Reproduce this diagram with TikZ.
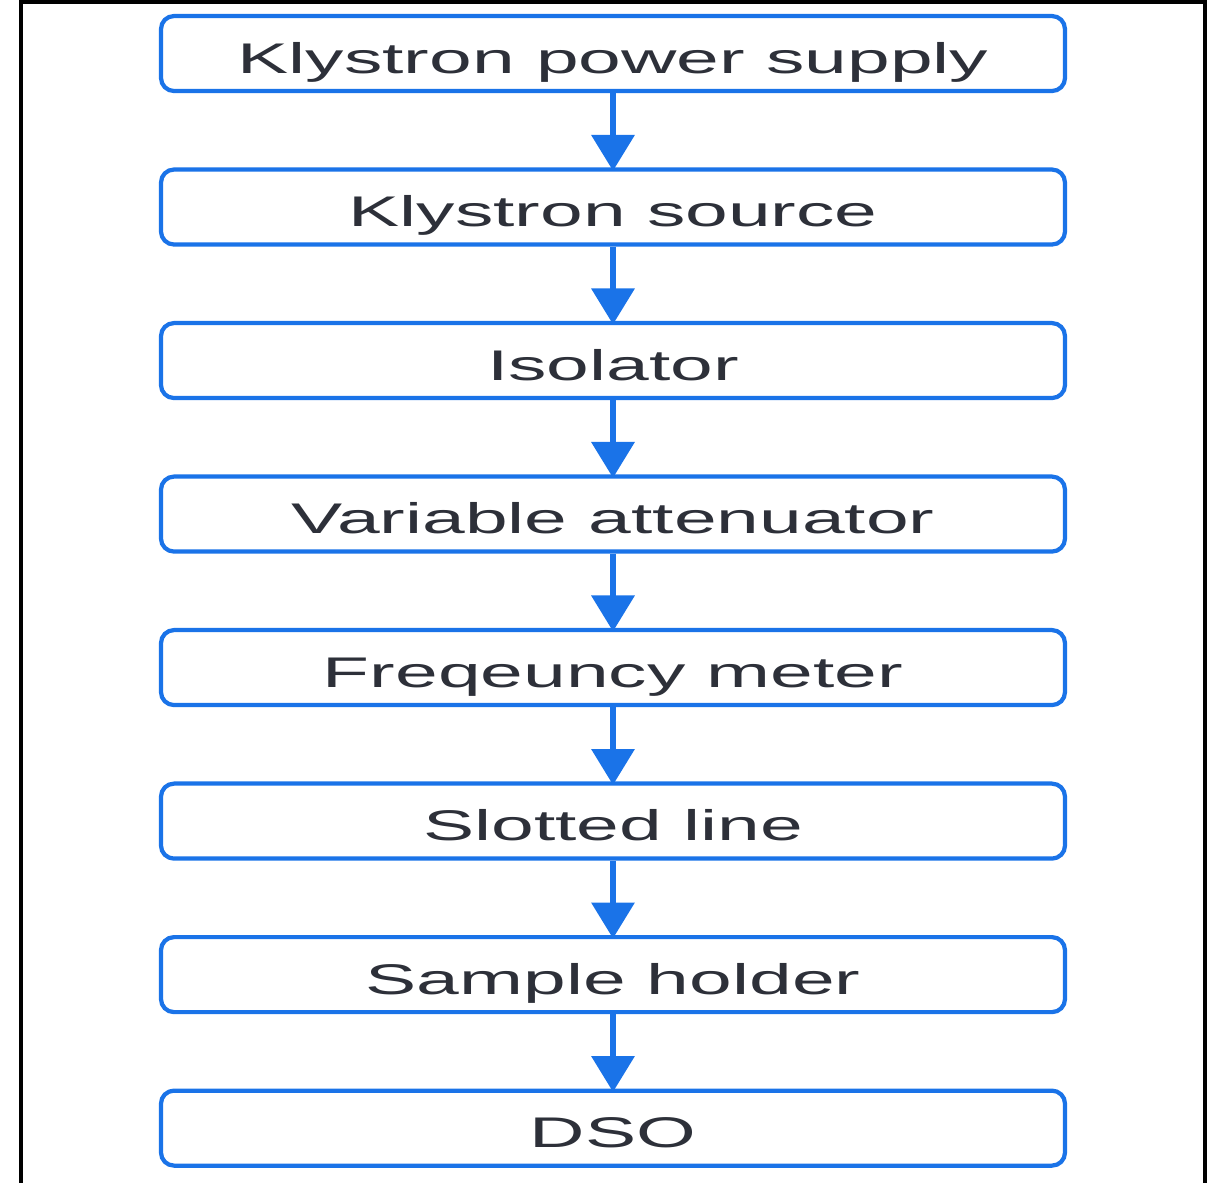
\documentclass[tikz,border=0pt]{standalone}
\usepackage{fontspec}
\usepackage{tikz}
\usetikzlibrary{arrows.meta, positioning}
\newfontfamily\boxfont[FakeStretch=1.79]{Liberation Sans}
\definecolor{flowblue}{HTML}{1A73E8}
\definecolor{boxtext}{HTML}{2D3039}
\tikzset{
  >={Triangle[width=0.42cm,length=0.36cm]},
  node distance=0.743cm,
  stage/.style={
    draw=flowblue,line width=1.2pt,rounded corners=0.13cm,fill=white,
    minimum width=9.04cm,minimum height=0.75cm,inner sep=0pt,
    text height=0.39cm,text depth=0pt,
    text=boxtext,font=\fontsize{12.2pt}{14pt}\boxfont
  },
  flow/.style={draw=flowblue,->,line width=1.9pt,shorten >=-1pt},
  frame/.style={draw=black,line width=0.9pt}
}

\begin{document}
\begin{tikzpicture}
  \useasboundingbox (0,0) rectangle (12.23,-11.82);
  % outer frame
  \draw[frame] (0.21,-12) -- (0.21,-0.02) -- (12.05,-0.02) -- (12.05,-12);

  % stages
  \node[stage] at (6.13,-0.535) (ps){Klystron power supply};
  \node[stage,below=of ps] (src){Klystron source};
  \node[stage,below=of src] (iso){Isolator};
  \node[stage,below=of iso] (att){Variable attenuator};
  \node[stage,below=of att] (freq){Freqeuncy meter};
  \node[stage,below=of freq] (slot){Slotted line};
  \node[stage,below=of slot] (holder){Sample holder};
  \node[stage,below=of holder] (dso){DSO};

  \foreach \a/\b in {ps/src,src/iso,iso/att,att/freq,freq/slot,slot/holder,holder/dso}
  {
    \draw[flow] (\a) -- (\b);
  }
\end{tikzpicture}
\end{document}
